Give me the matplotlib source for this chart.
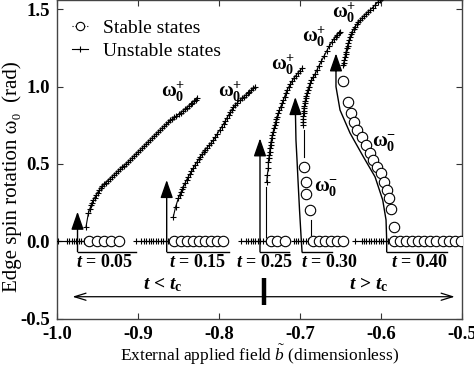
import numpy as np
import matplotlib
matplotlib.use('Agg')
import matplotlib.pyplot as plt
from matplotlib.lines import Line2D

plt.rcParams['font.family'] = ['Liberation Serif', 'DejaVu Serif']
plt.rcParams['mathtext.fontset'] = 'custom'
plt.rcParams['mathtext.rm'] = 'Liberation Serif'
plt.rcParams['mathtext.it'] = 'Liberation Serif:italic:bold'
plt.rcParams['mathtext.bf'] = 'Liberation Serif:bold'
plt.rcParams['mathtext.sf'] = 'Liberation Serif:italic'
plt.rcParams['axes.unicode_minus'] = False

# ---------------- data ----------------
t_labels = ['0.05', '0.15', '0.25', '0.30', '0.40']

# unstable states lying on omega0 = 0
b05_unst_zero = [-0.999, -0.988, -0.985, -0.982, -0.979, -0.976, -0.973, -0.970, -0.967, -0.964]
b15_unst_zero = [-0.902, -0.896, -0.893, -0.890, -0.887, -0.884, -0.881, -0.878, -0.875,
                 -0.872, -0.869, -0.866, -0.863, -0.860, -0.857]
b25_unst_zero = [-0.773, -0.767, -0.764, -0.761, -0.758, -0.755, -0.752, -0.749, -0.746, -0.742]
b30_unst_zero = [-0.708, -0.705, -0.702, -0.699, -0.696, -0.693, -0.690]
b40_unst_zero = [-0.632, -0.624, -0.621, -0.618, -0.615, -0.612, -0.609, -0.606, -0.603,
                 -0.600, -0.597, -0.594, -0.591, -0.588]

# stable states lying on omega0 = 0
b05_stab_zero = [-0.9605, -0.9512, -0.9420, -0.9333, -0.9240]
b15_stab_zero = [-0.8550, -0.8475, -0.8400, -0.8325, -0.8250, -0.8175, -0.8100, -0.8025, -0.7950]
b25_stab_zero = [-0.7364, -0.7278, -0.7191]
b30_stab_zero = [-0.6840, -0.6765, -0.6690, -0.6615, -0.6540, -0.6465]
b40_stab_zero = [-0.5840, -0.5765, -0.5690, -0.5615, -0.5540, -0.5465, -0.5390, -0.5315,
                 -0.5240, -0.5165, -0.5090, -0.5015]

# unstable branch omega0+
b05_plus = [-0.9642, -0.9613, -0.9595, -0.9580, -0.9565, -0.9550, -0.9535, -0.9520, -0.9500,
            -0.9480, -0.9460, -0.9440, -0.9420, -0.9400, -0.9375, -0.9350, -0.9325, -0.9300,
            -0.9275, -0.9250, -0.9225, -0.9200, -0.9175, -0.9150, -0.9125, -0.9100, -0.9075,
            -0.9050, -0.9025, -0.9000, -0.8975, -0.8950, -0.8925, -0.8900, -0.8875, -0.8850,
            -0.8825, -0.8800, -0.8775, -0.8750, -0.8725, -0.8700, -0.8675, -0.8650, -0.8625,
            -0.8600, -0.8575, -0.8550, -0.8525, -0.8500, -0.8475, -0.8450, -0.8425, -0.8400,
            -0.8375, -0.8350, -0.8330, -0.8310, -0.8290, -0.8275]
w05_plus = [0.094, 0.181, 0.210, 0.232, 0.250, 0.268, 0.282, 0.296, 0.314,
            0.330, 0.344, 0.357, 0.368, 0.379, 0.391, 0.403, 0.415, 0.428,
            0.440, 0.453, 0.465, 0.477, 0.488, 0.500, 0.512, 0.525, 0.538,
            0.552, 0.565, 0.578, 0.590, 0.603, 0.616, 0.630, 0.643, 0.656,
            0.669, 0.682, 0.695, 0.708, 0.721, 0.734, 0.746, 0.758, 0.770,
            0.782, 0.791, 0.800, 0.810, 0.820, 0.830, 0.840, 0.852, 0.863,
            0.874, 0.885, 0.895, 0.905, 0.915, 0.924]

b15_plus = [-0.8564, -0.8535, -0.8502, -0.8485, -0.8469, -0.8455, -0.8440, -0.8420, -0.8400,
            -0.8379, -0.8360, -0.8340, -0.8318, -0.8296, -0.8273, -0.8250, -0.8230, -0.8210,
            -0.8190, -0.8173, -0.8147, -0.8120, -0.8095, -0.8070, -0.8045, -0.8020, -0.7993,
            -0.7967, -0.7943, -0.7920, -0.7900, -0.7880, -0.7862, -0.7843, -0.7822, -0.7802,
            -0.7772, -0.7741, -0.7715, -0.7690, -0.7669, -0.7648, -0.7624, -0.7600, -0.7576,
            -0.7552]
w15_plus = [0.159, 0.224, 0.278, 0.300, 0.320, 0.335, 0.350, 0.375, 0.397,
            0.417, 0.434, 0.452, 0.472, 0.493, 0.512, 0.530, 0.546, 0.562,
            0.576, 0.590, 0.606, 0.622, 0.638, 0.654, 0.674, 0.695, 0.717,
            0.740, 0.760, 0.780, 0.799, 0.818, 0.834, 0.850, 0.865, 0.880,
            0.896, 0.912, 0.924, 0.935, 0.945, 0.955, 0.966, 0.977, 0.988,
            0.999]

b25_plus = [-0.7411, -0.7404, -0.7391, -0.7391, -0.7385, -0.7379, -0.7375, -0.7370, -0.7364,
            -0.7358, -0.7350, -0.7342, -0.7332, -0.7321, -0.7310, -0.7300, -0.7292, -0.7284,
            -0.7270, -0.7255, -0.7238, -0.7222, -0.7206, -0.7190, -0.7175, -0.7160, -0.7140,
            -0.7120, -0.7099, -0.7078, -0.7054, -0.7030, -0.7003, -0.6975]
w25_plus = [0.385, 0.428, 0.472, 0.514, 0.536, 0.557, 0.579, 0.601, 0.622,
            0.643, 0.665, 0.687, 0.708, 0.730, 0.752, 0.773, 0.789, 0.805,
            0.826, 0.848, 0.870, 0.891, 0.913, 0.935, 0.956, 0.977, 0.996,
            1.015, 1.034, 1.053, 1.069, 1.085, 1.102, 1.118]

b30_plus = [-0.6960, -0.6960, -0.6960, -0.6958, -0.6955, -0.6953, -0.6950, -0.6945, -0.6940,
            -0.6935, -0.6930, -0.6923, -0.6915, -0.6903, -0.6890, -0.6875, -0.6860, -0.6838,
            -0.6815, -0.6793, -0.6770, -0.6735, -0.6700, -0.6670, -0.6640, -0.6610, -0.6580,
            -0.6560, -0.6540, -0.6523, -0.6505]
w30_plus = [0.750, 0.770, 0.790, 0.808, 0.827, 0.843, 0.860, 0.876, 0.891,
            0.908, 0.925, 0.940, 0.956, 0.978, 1.000, 1.020, 1.040, 1.060,
            1.080, 1.105, 1.130, 1.165, 1.200, 1.230, 1.260, 1.285, 1.310,
            1.323, 1.335, 1.345, 1.355]

b40_plus = [-0.6465, -0.6459, -0.6453, -0.6444, -0.6438, -0.6432, -0.6423, -0.6413, -0.6403,
            -0.6393, -0.6383, -0.6368, -0.6354, -0.6338, -0.6321, -0.6300, -0.6280, -0.6259,
            -0.6238, -0.6214, -0.6189, -0.6163, -0.6136, -0.6105, -0.6074, -0.6043, -0.6012,
            -0.5986, -0.5960]
w40_plus = [1.139, 1.155, 1.171, 1.192, 1.208, 1.225, 1.247, 1.265, 1.283,
            1.302, 1.322, 1.338, 1.354, 1.370, 1.386, 1.401, 1.415, 1.428,
            1.441, 1.455, 1.468, 1.481, 1.494, 1.510, 1.526, 1.543, 1.559,
            1.575, 1.590]

# stable branch omega0-
b30_minus = [-0.6951, -0.6930, -0.6926, -0.6877]
w30_minus = [0.482, 0.385, 0.306, 0.202]

b40_minus = [-0.6473, -0.6411, -0.6374, -0.6333, -0.6293, -0.6238, -0.6189, -0.6136,
             -0.6095, -0.6046, -0.6000, -0.5963, -0.5922, -0.5898, -0.5880, -0.5840]
w40_minus = [1.036, 0.902, 0.831, 0.773, 0.719, 0.672, 0.622, 0.568,
             0.525, 0.482, 0.439, 0.385, 0.331, 0.278, 0.207, 0.094]

# ---------------- figure ----------------
fig = plt.figure(figsize=(4.74, 3.67), dpi=100)
ax = fig.add_axes([0.1203, 0.1316, 0.8544, 0.8684])
ax.set_xlim(-1.0, -0.5)
ax.set_ylim(-0.5, 1.559)

K = 'black'
plus_kw = dict(color=K, marker='+', ms=5.0, mew=0.8, lw=0.8, ls='-', zorder=3)
circ_kw = dict(color=K, marker='o', ms=7.5, mew=0.8, mfc='white', ls='none', zorder=4)

for xs in [b05_unst_zero, b15_unst_zero, b25_unst_zero, b30_unst_zero, b40_unst_zero]:
    ax.plot(xs, np.zeros(len(xs)), **plus_kw)
for xs in [b05_stab_zero, b15_stab_zero, b25_stab_zero, b30_stab_zero, b40_stab_zero]:
    ax.plot(xs, np.zeros(len(xs)), **circ_kw)
for xs, ys in [(b05_plus, w05_plus), (b15_plus, w15_plus), (b25_plus, w25_plus),
               (b30_plus, w30_plus), (b40_plus, w40_plus)]:
    ax.plot(xs, ys, **plus_kw)
for xs, ys in [(b30_minus, w30_minus), (b40_minus, w40_minus)]:
    ax.plot(xs, ys, **circ_kw)

# thin continuation lines between branches
thin = dict(color=K, lw=0.8, zorder=2)
ax.plot([b25_plus[0] - 0.0012, b25_plus[0] - 0.0012], [0.03, 0.353], **thin)
ax.plot([b30_minus[0], b30_minus[0]], [0.547, 0.719], **thin)
ax.plot([b30_minus[-1] + 0.0013, b30_minus[-1] + 0.0013], [0.04, 0.138], **thin)

# brackets with filled arrows
ybr = -0.067
head = dict(arrowstyle='-|>,head_length=1.0,head_width=0.35', mutation_scale=11,
            lw=1.0, color=K, shrinkA=0, shrinkB=0)
for xa, tip, xe in [(-0.9747, 0.191, -0.902), (-0.8646, 0.396, -0.788), (-0.7494, 0.665, -0.7136)]:
    ax.annotate('', xy=(xa, tip), xytext=(xa, ybr), arrowprops=head, zorder=5)
    ax.plot([xa, xe], [ybr, ybr], color=K, lw=1.0, zorder=2)

# curved arrows for t = 0.30 and t = 0.40
c30x = [-0.6975, -0.6988, -0.7006, -0.7025, -0.7037, -0.7050, -0.7056]
c30y = [ybr, 0.04, 0.202, 0.396, 0.525, 0.654, 0.816]
ax.plot(c30x, c30y, color=K, lw=1.0, zorder=2)
ax.annotate('', xy=(-0.7058, 0.932), xytext=(c30x[-1], c30y[-1]), arrowprops=head, zorder=5)
ax.plot([c30x[0], -0.6605], [ybr, ybr], color=K, lw=1.0, zorder=2)

c40x = [-0.593, -0.593, -0.5938, -0.5979, -0.6074, -0.6219, -0.6383, -0.6506, -0.6556, -0.6556]
c40y = [ybr, 0.008, 0.138, 0.267, 0.417, 0.547, 0.700, 0.848, 0.999, 1.10]
ax.plot(c40x, c40y, color=K, lw=1.0, zorder=2)
ax.annotate('', xy=(-0.6556, 1.214), xytext=(c40x[-1], c40y[-1]), arrowprops=head, zorder=5)
ax.plot([c40x[0], -0.5185], [ybr, ybr], color=K, lw=1.0, zorder=2)

# t labels
for xc, lab in zip([-0.9407, -0.826, -0.744, -0.663, -0.552], t_labels):
    ax.text(xc, -0.134, r'$t$ = ' + lab, ha='center', va='center',
            fontsize=13, fontweight='bold')

# omega labels
wkw = dict(ha='center', va='center', fontsize=14.5, fontweight='bold')
for xc, yc in [(-0.8568, 0.964), (-0.7864, 0.964), (-0.721, 1.139), (-0.6827, 1.32), (-0.6457, 1.475)]:
    ax.text(xc, yc, r'ω$_\mathbf{0}^\mathbf{+}$', **wkw)
for xc, yc in [(-0.6679, 0.344), (-0.5963, 0.635)]:
    ax.text(xc, yc, r'ω$_\mathbf{0}^\mathbf{-}$', **wkw)

# t < tc / t > tc double arrow
ax.annotate('', xy=(-0.509, -0.358), xytext=(-0.981, -0.358),
            arrowprops=dict(arrowstyle='<->,head_length=0.55,head_width=0.17',
                            mutation_scale=15, lw=0.9, color=K, shrinkA=0, shrinkB=0))
ax.plot([-0.745, -0.745], [-0.237, -0.411], color=K, lw=3.2, solid_capstyle='butt', zorder=5)
ax.text(-0.869, -0.28, r'$t$ < $t_\mathbf{c}$', ha='center', va='center', fontsize=14, fontweight='bold')
ax.text(-0.615, -0.28, r'$t$ > $t_\mathbf{c}$', ha='center', va='center', fontsize=14, fontweight='bold')

# axes styling
ax.set_xticks([-1.0, -0.9, -0.8, -0.7, -0.6, -0.5])
ax.set_xticklabels(['-1.0', '-0.9', '-0.8', '-0.7', '-0.6', '-0.5'])
ax.set_yticks([-0.5, 0.0, 0.5, 1.0, 1.5])
ax.set_yticklabels(['-0.5', '0.0', '0.5', '1.0', '1.5'])
ax.tick_params(direction='in', top=True, right=True, length=4.5, width=0.8,
               labelsize=13.5, pad=5, color='#333333')
for lab in ax.get_xticklabels() + ax.get_yticklabels():
    lab.set_fontweight('bold')
for sp in ax.spines.values():
    sp.set_color('#444444')
    sp.set_linewidth(1.0)

ax.set_xlabel(r'External applied field $\tilde{\mathsf{b}}$ (dimensionless)', fontsize=12.5, labelpad=0.5)
ax.set_ylabel('Edge spin rotation ω\u2080  (rad)', fontsize=15, va='center')
ax.yaxis.set_label_coords(-0.112, 0.445)

handles = [Line2D([], [], color=K, marker='o', mfc='white', ms=6, mew=0.8, ls=':', lw=0.8),
           Line2D([], [], color=K, marker='+', ms=5, mew=0.8, ls='-', lw=0.8)]
ax.legend(handles, ['Stable states', 'Unstable states'], loc='upper left',
          bbox_to_anchor=(0.036, 0.94), frameon=False, fontsize=14,
          handlelength=0.85, handletextpad=0.75, labelspacing=0.3,
          borderaxespad=0, borderpad=0)

fig.savefig('out.png', dpi=100)
